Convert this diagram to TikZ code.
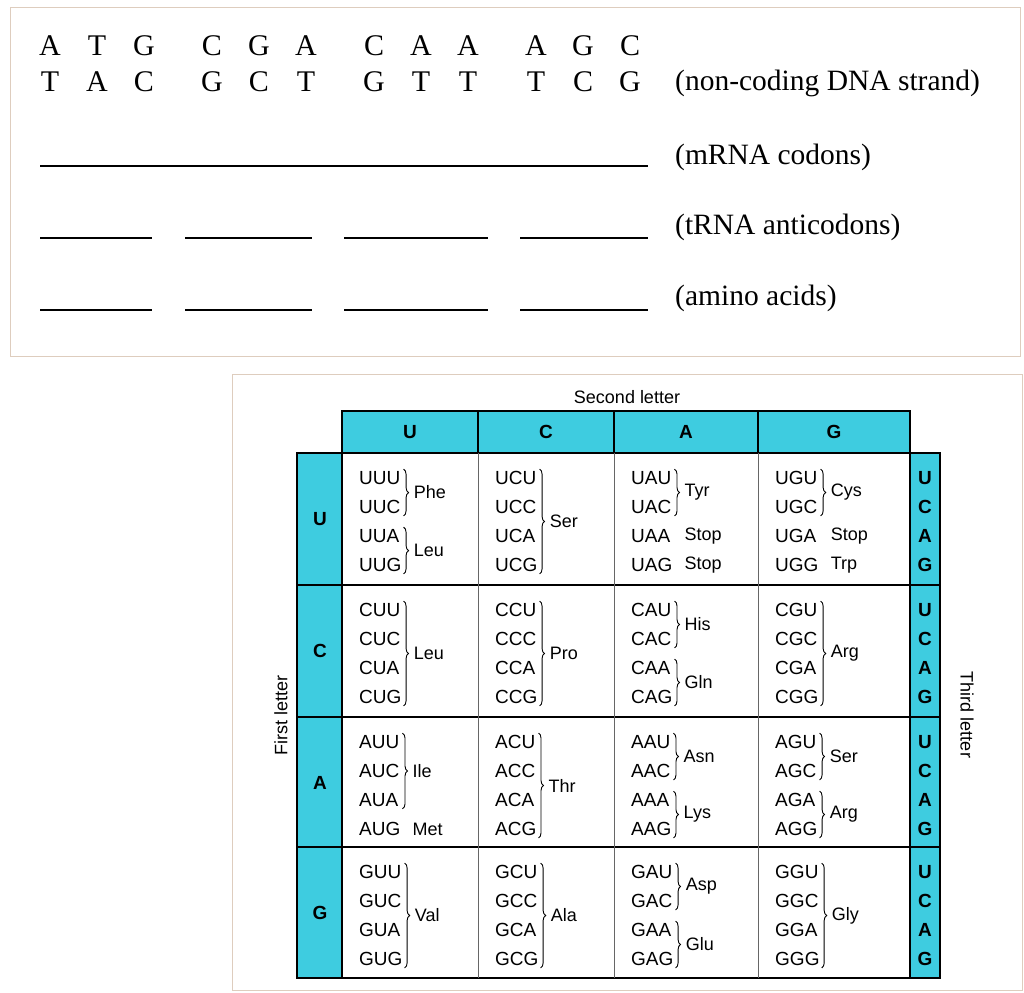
\documentclass[tikz,border=0pt]{standalone}
\usepackage{fontspec}
\setmainfont{Liberation Serif}
\newfontfamily\tabfont{Liberation Sans}
\usetikzlibrary{decorations.pathreplacing,calc}
\definecolor{tabcyan}{RGB}{62,204,224}
\definecolor{boxtan}{RGB}{222,205,190}
\tikzset{
  dna/.style={font=\fontsize{30}{32}\selectfont, inner sep=0pt},
  lbl/.style={font=\fontsize{29.5}{32}\selectfont, anchor=west, inner sep=0pt},
  blank/.style={line width=1.2pt},
  codon/.style={font=\tabfont\fontsize{19}{20}\selectfont, anchor=west, inner sep=0pt},
  amino/.style={font=\tabfont\fontsize{18}{20}\selectfont, anchor=west, inner sep=0pt},
  head/.style={font=\tabfont\bfseries\fontsize{19}{20}\selectfont, inner sep=0pt},
  cbrace/.style={decorate, decoration={brace, amplitude=5pt}, line width=0.9pt}
}
\begin{document}
\begin{tikzpicture}[x=1pt, y=-1pt]
\useasboundingbox (0,0) rectangle (1024,992);
% top worksheet box
\draw[boxtan, line width=1pt] (10,8) rectangle (1020,356);
\foreach \l [count=\i] in {A,T,G,C,G,A,C,A,A,A,G,C}
  \node[dna] (top\i) at ({50+(\i-1)*47+int((\i-1)/3)*21},46) {\l};
\foreach \l [count=\i] in {T,A,C,G,C,T,G,T,T,T,C,G}
  \node[dna] (bot\i) at ({50+(\i-1)*47+int((\i-1)/3)*21},82) {\l};
\node[lbl] (strand) at (675,83) {(non-coding DNA strand)};
\draw[blank] (40,166) -- (648,166);
\node[lbl] (mrna) at (675,157) {(mRNA codons)};
\foreach \y in {238,310}
  \foreach \a/\b in {40/152,185/312,344/488,520/648}
    \draw[blank] (\a,\y) -- (\b,\y);
\node[lbl] (trna) at (675,227) {(tRNA anticodons)};
\node[lbl] (amino) at (675,298) {(amino acids)};
% codon table
\draw[boxtan, line width=1pt] (232,374) rectangle (1022,990);
\fill[tabcyan] (342,411) rectangle (910,453);
\fill[tabcyan] (297,453) rectangle (342,978);
\fill[tabcyan] (910,453) rectangle (940,978);
\draw[line width=1.5pt] (342,453) -- (342,411) -- (910,411) -- (910,453);
\draw[line width=1.5pt] (297,453) rectangle (940,978);
\draw[line width=1.5pt] (342,453) -- (342,978) (910,453) -- (910,978);
\foreach \y in {585,717,847}
  \draw[line width=1.5pt] (297,\y) -- (940,\y);
\foreach \x in {478,614,758}
  \draw[line width=1.5pt] (\x,411) -- (\x,453);
\foreach \x in {478,614,758}
  \draw[black!60, line width=0.8pt] (\x,453) -- (\x,978);
\node[font=\tabfont\fontsize{18}{20}\selectfont] (second) at (627,397) {Second letter};
\node[font=\tabfont\fontsize{18}{20}\selectfont, rotate=90] (first) at (281,715) {First letter};
\node[font=\tabfont\fontsize{18}{20}\selectfont, rotate=-90] (third) at (967,715) {Third letter};
\foreach \s/\x in {U/410,C/546,A/686,G/834}
  \node[head] (h\s) at (\x,432) {\s};
\foreach \f/\y in {U/453,C/585,A/717,G/847}{
  \node[head] (f\f) at (320,\y+66) {\f};
  \foreach \t [count=\k] in {U,C,A,G}
    \node[head] (t\f\t) at (925,{\y+25+(\k-1)*29}) {\t};
  \foreach \s/\x in {U/342,C/478,A/614,G/758}
    \foreach \t [count=\k] in {U,C,A,G}
      \node[codon] (c\f\s\t) at (\x+17,{\y+25+(\k-1)*29}) {\f\s\t};
}
% braces: first/second/from/to/label
\foreach \f/\s/\a/\b/\lab in {U/U/U/C/Phe, U/U/A/G/Leu, U/C/U/G/Ser, U/A/U/C/Tyr, U/G/U/C/Cys,
    C/U/U/G/Leu, C/C/U/G/Pro, C/A/U/C/His, C/A/A/G/Gln, C/G/U/G/Arg,
    A/U/U/A/Ile, A/C/U/G/Thr, A/A/U/C/Asn, A/A/A/G/Lys, A/G/U/C/Ser, A/G/A/G/Arg,
    G/U/U/G/Val, G/C/U/G/Ala, G/A/U/C/Asp, G/A/A/G/Glu, G/G/U/G/Gly}{
  \draw[cbrace] ([xshift=3pt,yshift=2pt]c\f\s\a.north east -| c\f\s U.east) -- ([xshift=3pt,yshift=-2pt]c\f\s\b.south east -| c\f\s U.east);
  \coordinate (m\f\s\a) at ($(c\f\s\a)!0.5!(c\f\s\b)$);
  \node[amino] at ([xshift=13pt]c\f\s U.east |- m\f\s\a) {\lab};
}
\foreach \f/\s/\t/\lab in {U/A/A/Stop, U/A/G/Stop, U/G/A/Stop, U/G/G/Trp, A/U/G/Met}
  \node[amino] at ([xshift=13pt]c\f\s U.east |- c\f\s\t) {\lab};
\end{tikzpicture}
\end{document}
